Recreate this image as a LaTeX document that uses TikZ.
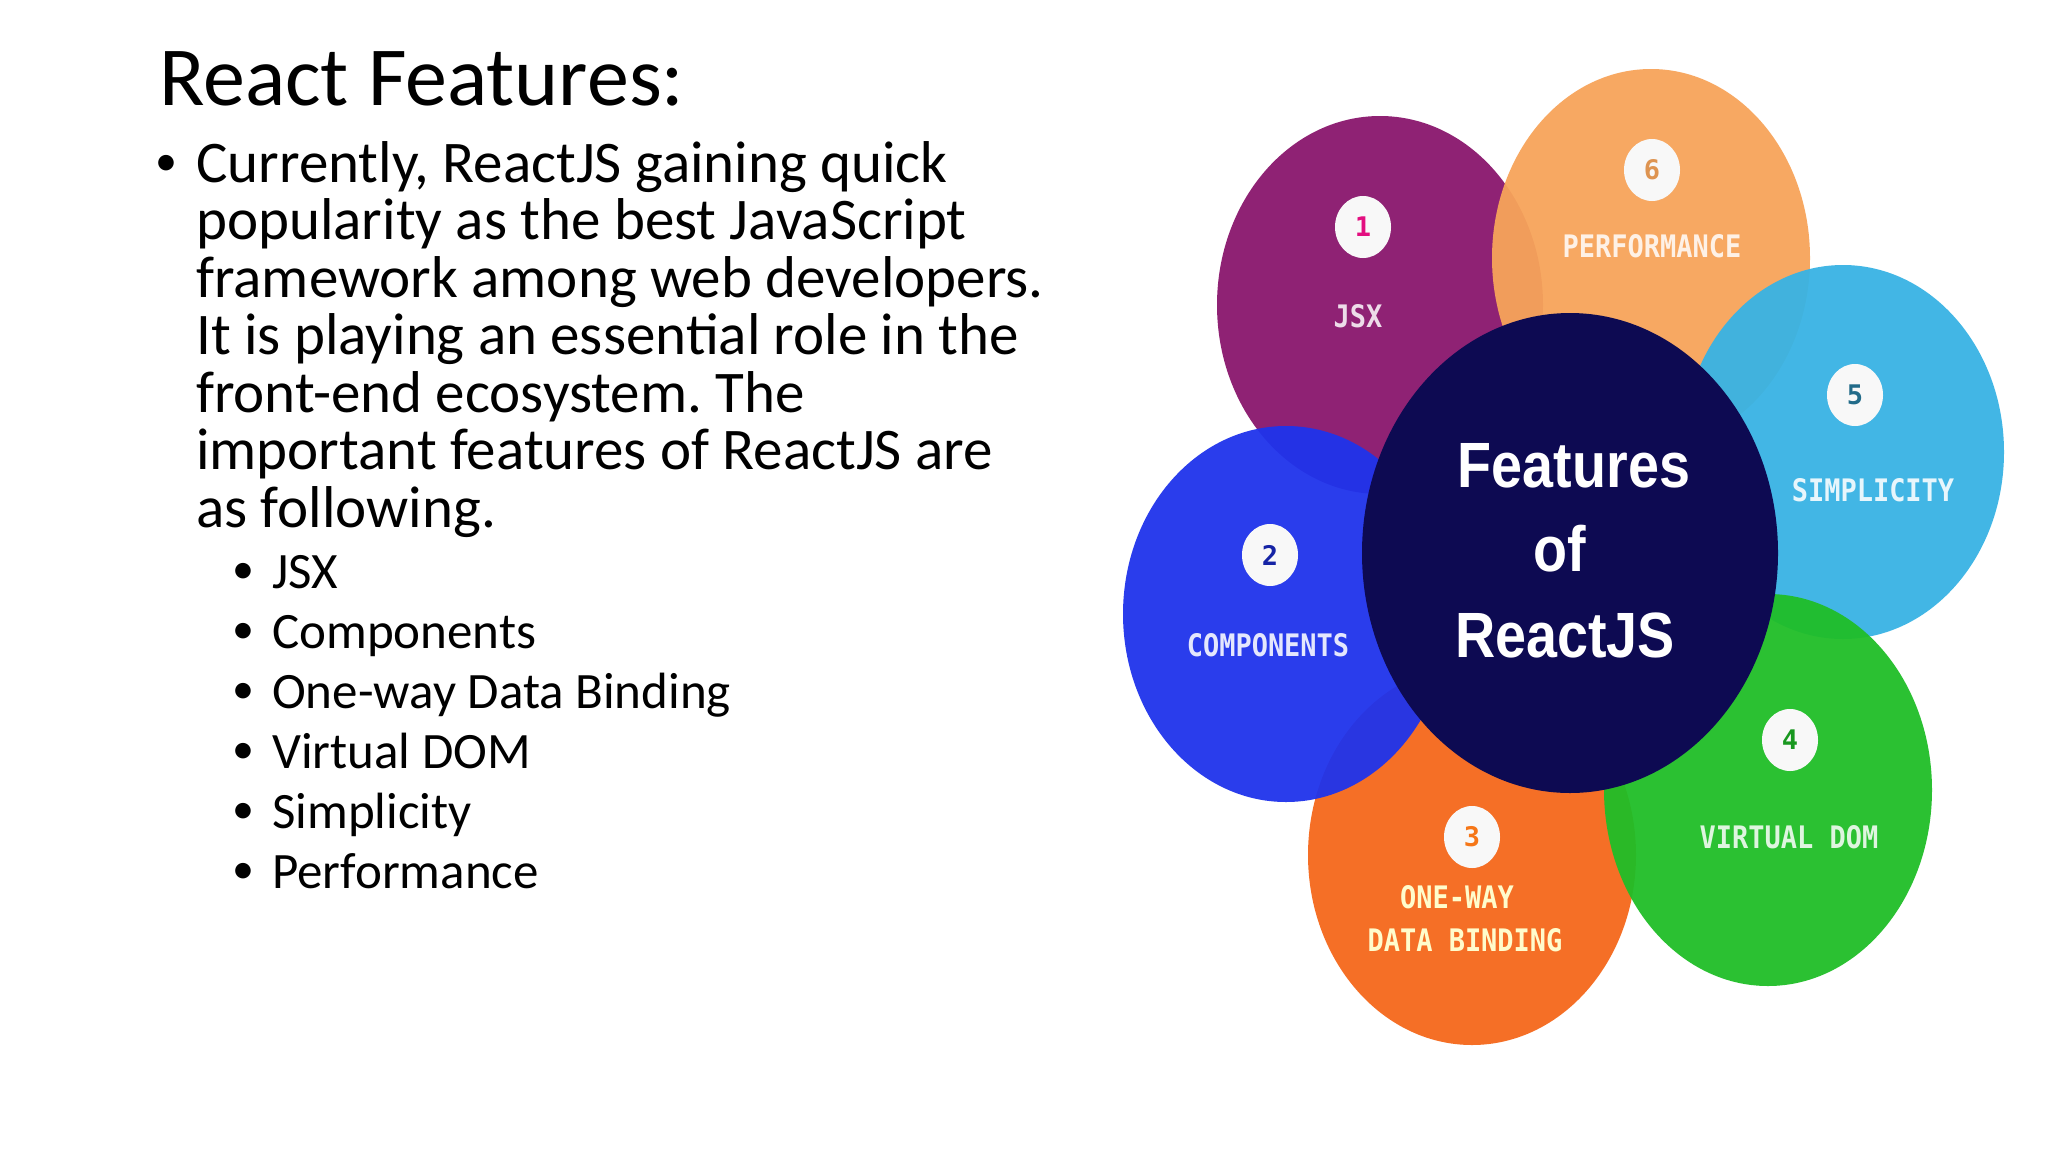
\documentclass[tikz,border=0pt]{standalone}
\usepackage{fontspec}
\setmainfont{Carlito}
\newfontfamily\labelfont{DejaVu Sans Mono}
\newfontfamily\headfont{Liberation Sans}
\usetikzlibrary{shapes.geometric}
\frenchspacing

\definecolor{cpurple}{HTML}{8A176D}
\definecolor{cpeach}{HTML}{F7A45A}
\definecolor{clblue}{HTML}{38B3E4}
\definecolor{cgreen}{HTML}{20BE28}
\definecolor{corange}{HTML}{F5681B}
\definecolor{cblue}{HTML}{1F33EC}
\definecolor{cnavy}{HTML}{0D0A52}
\definecolor{badgebg}{HTML}{F8F8F8}

\tikzset{
  bubble/.style={ellipse, draw=none, inner sep=0pt, fill opacity=0.95},
  badge/.style={ellipse, fill=badgebg, inner sep=0pt, minimum width=56pt, minimum height=62pt,
    font=\labelfont\bfseries\fontsize{27}{27}\selectfont},
  lbl/.style={inner sep=0pt, font=\labelfont\bfseries\fontsize{31}{31}\selectfont},
  head/.style={inner sep=0pt, text=white, font=\headfont\bfseries\fontsize{64}{64}\selectfont},
  title/.style={anchor=base west, inner sep=0pt, font=\fontsize{84}{84}\selectfont},
  body/.style={anchor=base west, inner sep=0pt, font=\fontsize{59}{59}\selectfont},
  sub/.style={anchor=base west, inner sep=0pt, font=\fontsize{51}{51}\selectfont},
  dot/.style={anchor=center, inner sep=0pt, font=\fontsize{44}{44}\selectfont},
}
\newcommand{\sq}[1]{\scalebox{0.87}[1]{#1}}

\begin{document}
\begin{tikzpicture}[x=1pt,y=-1pt]
\useasboundingbox (0,0) rectangle (2048,1152);
\fill[white] (0,0) rectangle (2048,1152);

% ---- left text ----
\node[title] (ttl) at (159,105) {React Features:};
\node[dot] (b0) at (166,165) {•};
\node[body] (l1) at (196,182) {Currently, ReactJS gaining quick};
\node[body] (l2) at (196,239.5) {popularity as the best JavaScript};
\node[body] (l3) at (196,297) {framework among web developers.};
\node[body] (l4) at (196,354.5) {It is playing an essential role in the};
\node[body] (l5) at (196,412) {front-end ecosystem. The};
\node[body] (l6) at (196,469.5) {important features of ReactJS are};
\node[body] (l7) at (196,527) {as following.};

\node[dot] (s1b) at (243,573) {•}; \node[sub] (s1) at (272,588) {JSX};
\node[dot] (s2b) at (243,633) {•}; \node[sub] (s2) at (272,648) {Components};
\node[dot] (s3b) at (243,693) {•}; \node[sub] (s3) at (272,708) {One-way Data Binding};
\node[dot] (s4b) at (243,753) {•}; \node[sub] (s4) at (272,768) {Virtual DOM};
\node[dot] (s5b) at (243,813) {•}; \node[sub] (s5) at (272,828) {Simplicity};
\node[dot] (s6b) at (243,873) {•}; \node[sub] (s6) at (272,888) {Performance};

% ---- bubbles ----
\node[bubble, fill=cpurple, minimum width=326pt, minimum height=378pt] (cjsx) at (1380,305) {};
\node[badge, text=magenta!80!purple] (n1) at (1363,227) {1};
\node[lbl, text=white!85!cpurple] (tjsx) at (1358,316) {\sq{JSX}};

\node[bubble, fill=cpeach, minimum width=318pt, minimum height=378pt] (cperf) at (1651,258) {};
\node[badge, text=cpeach!90!black] (n6) at (1652,170) {6};
\node[lbl, text=white!85!cpeach] (tperf) at (1652,246) {\sq{PERFORMANCE}};

\node[bubble, fill=clblue, minimum width=322pt, minimum height=374pt] (csimp) at (1843,452) {};
\node[badge, text=clblue!60!black] (n5) at (1855,395) {5};
\node[lbl, text=white!88!clblue] (tsimp) at (1873,490) {\sq{SIMPLICITY}};

\node[bubble, fill=corange, minimum width=328pt, minimum height=380pt] (cone) at (1472,855) {};
\node[badge, text=corange!90!yellow] (n3) at (1472,837) {3};
\node[lbl, text=white!80!yellow] (tone) at (1457,897) {\sq{ONE-WAY}};
\node[lbl, text=white!80!yellow] (tdata) at (1465,940) {\sq{DATA BINDING}};

\node[bubble, fill=cgreen, minimum width=328pt, minimum height=392pt] (cvdom) at (1768,790) {};
\node[badge, text=cgreen!80!black] (n4) at (1790,740) {4};
\node[lbl, text=white!85!cgreen] (tvdom) at (1789,837) {\sq{VIRTUAL DOM}};

\node[bubble, fill=cblue, minimum width=326pt, minimum height=376pt] (ccomp) at (1286,614) {};
\node[badge, text=cblue!70!black] (n2) at (1270,555) {2};
\node[lbl, text=white!88!cblue] (tcomp) at (1268,645) {\sq{COMPONENTS}};

% ---- centre ----
\node[ellipse, fill=cnavy, inner sep=0pt, minimum width=416pt, minimum height=480pt] (ctr) at (1570,553) {};
\node[head] (h1) at (1574,466) {\sq{Features}};
\node[head] (h2) at (1560,549) {\sq{of}};
\node[head] (h3) at (1565,635) {\sq{ReactJS}};
\end{tikzpicture}
\end{document}
